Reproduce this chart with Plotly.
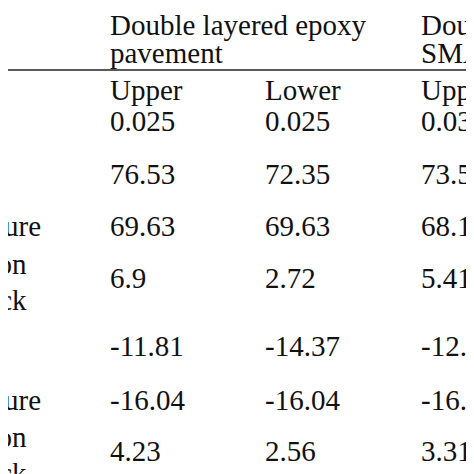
import plotly.graph_objects as go

group_headers = [["Double layered epoxy", "pavement"], ["Double layered", "SMA pavement"]]
sub_headers = ["Upper", "Lower", "Upper"]
col_epoxy_upper = ["0.025", "76.53", "69.63", "6.9", "-11.81", "-16.04", "4.23"]
col_epoxy_lower = ["0.025", "72.35", "69.63", "2.72", "-14.37", "-16.04", "2.56"]
col_sma_upper = ["0.03", "73.52", "68.17", "5.41", "-12.86", "-16.17", "3.31"]
row_labels = [[], [], ["Temperature"], ["Tension", "in deck"], [], ["Temperature"], ["Tension", "in deck"]]

W = H = 474
SHIFT = -10
col_x = [110, 265, 421]
row_y = [113, 166, 218, 270, 338, 392, 443]
FONT = dict(family="Liberation Serif, Times New Roman, serif", size=29, color="#111")

fig = go.Figure()
ann = []
for gx, lines in zip([col_x[0], col_x[2]], group_headers):
    for ly, t in zip([17, 45], lines):
        ann.append(dict(x=gx + SHIFT, y=ly, text=t, xanchor="left"))
for cx, sh in zip(col_x, sub_headers):
    ann.append(dict(x=cx + SHIFT, y=82, text=sh, xanchor="left"))
for cx, col in zip(col_x, [col_epoxy_upper, col_epoxy_lower, col_sma_upper]):
    for ry, v in zip(row_y, col):
        ann.append(dict(x=cx + SHIFT, y=ry, text=v, xanchor="left"))
for ry, lines in zip(row_y, row_labels):
    if len(lines) == 1:
        ann.append(dict(x=25 - SHIFT, y=ry, text=lines[0], xanchor="right"))
    elif len(lines) == 2:
        for ly, t in zip([ry - 14, ry + 22], lines):
            ann.append(dict(x=11 - SHIFT, y=ly, text=t, xanchor="right"))
for a in ann:
    a.update(xref="x", yref="y", font=FONT, yanchor="middle", showarrow=False)

fig.update_layout(
    width=W, height=H, margin=dict(l=0, r=0, t=0, b=0),
    paper_bgcolor="white", plot_bgcolor="white", annotations=ann,
    xaxis=dict(range=[0, W], visible=False, fixedrange=True),
    yaxis=dict(range=[H, 0], visible=False, fixedrange=True),
    shapes=[dict(type="line", xref="x", yref="y", x0=0, x1=W, y0=62, y1=62,
                 line=dict(color="#222", width=1.5))],
    showlegend=False,
)
fig.write_html("out.html", config={"displayModeBar": False})
